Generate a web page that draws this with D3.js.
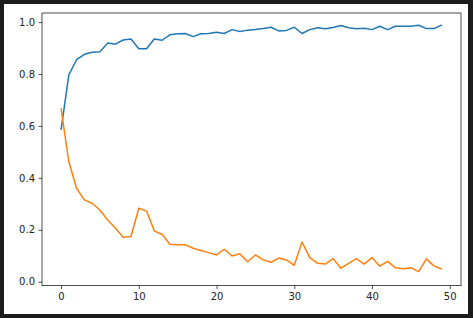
<!DOCTYPE html>
<html>
<head>
<meta charset="utf-8">
<script src="https://cdn.jsdelivr.net/npm/d3@7"></script>
<style>
  html, body { margin: 0; padding: 0; background: #1c1c1c; }
  svg { display: block; }
  .tick text { font-family: "DejaVu Sans", sans-serif; font-size: 10px; fill: #222; }
</style>
</head>
<body>
<svg id="chart" width="473" height="318"></svg>
<script>
// epochs 0..49
const epochs = d3.range(50);

// blue series (rises towards 1)
const blueValues = [0.585, 0.797, 0.855, 0.876, 0.884, 0.886, 0.919, 0.915, 0.931, 0.935,
  0.897, 0.897, 0.935, 0.930, 0.951, 0.955, 0.956, 0.944, 0.955, 0.956,
  0.961, 0.956, 0.971, 0.964, 0.969, 0.971, 0.975, 0.980, 0.966, 0.968,
  0.980, 0.956, 0.971, 0.978, 0.974, 0.979, 0.987, 0.978, 0.974, 0.976,
  0.971, 0.984, 0.971, 0.984, 0.984, 0.984, 0.988, 0.975, 0.975, 0.989];

// orange series (falls towards 0)
const orangeValues = [0.668, 0.462, 0.360, 0.315, 0.302, 0.276, 0.238, 0.206, 0.171, 0.174,
  0.283, 0.272, 0.195, 0.183, 0.144, 0.142, 0.142, 0.129, 0.120, 0.112,
  0.103, 0.125, 0.099, 0.108, 0.077, 0.103, 0.084, 0.075, 0.091, 0.084,
  0.063, 0.153, 0.093, 0.071, 0.068, 0.089, 0.052, 0.071, 0.089, 0.068,
  0.093, 0.060, 0.078, 0.054, 0.050, 0.054, 0.039, 0.088, 0.060, 0.049];

const xTicks = [0, 10, 20, 30, 40, 50];
const yTicks = [0.0, 0.2, 0.4, 0.6, 0.8, 1.0];

const svg = d3.select("#chart");

// white figure area inside the dark notebook frame
svg.append("rect")
    .attr("x", 4).attr("y", 4)
    .attr("width", 464).attr("height", 310)
    .attr("fill", "#fff");

const plotLeft = 42, plotRight = 461, plotTop = 13, plotBottom = 285.6;

let x = d3.scaleLinear().domain([-2.45, 51.45]).range([plotLeft, plotRight]);
let y = d3.scaleLinear().domain([-0.015, 1.035]).range([plotBottom, plotTop]);

let line = d3.line()
    .x((d, i) => x(epochs[i]))
    .y(d => y(d));

let plot = svg.append("g");

plot.append("path")
    .datum(blueValues)
    .attr("fill", "none")
    .attr("stroke", "#1f77b4")
    .attr("stroke-width", 1.5)
    .attr("stroke-linejoin", "round")
    .attr("d", line);

plot.append("path")
    .datum(orangeValues)
    .attr("fill", "none")
    .attr("stroke", "#ff7f0e")
    .attr("stroke-width", 1.5)
    .attr("stroke-linejoin", "round")
    .attr("d", line);

// axes
let xAxis = svg.append("g")
    .attr("transform", `translate(0,${plotBottom})`)
    .call(d3.axisBottom(x).tickValues(xTicks).tickSize(3.5).tickPadding(3.5).tickFormat(d3.format("d")));

let yAxis = svg.append("g")
    .attr("transform", `translate(${plotLeft},0)`)
    .call(d3.axisLeft(y).tickValues(yTicks).tickSize(3.5).tickPadding(3.5).tickFormat(d3.format(".1f")));

[xAxis, yAxis].forEach(a => {
  a.select(".domain").remove();
  a.selectAll(".tick line").attr("stroke", "#222").attr("stroke-width", 0.8);
});

// spines
svg.append("rect")
    .attr("x", plotLeft).attr("y", plotTop)
    .attr("width", plotRight - plotLeft).attr("height", plotBottom - plotTop)
    .attr("fill", "none")
    .attr("stroke", "#222")
    .attr("stroke-width", 0.8);
</script>
</body>
</html>
